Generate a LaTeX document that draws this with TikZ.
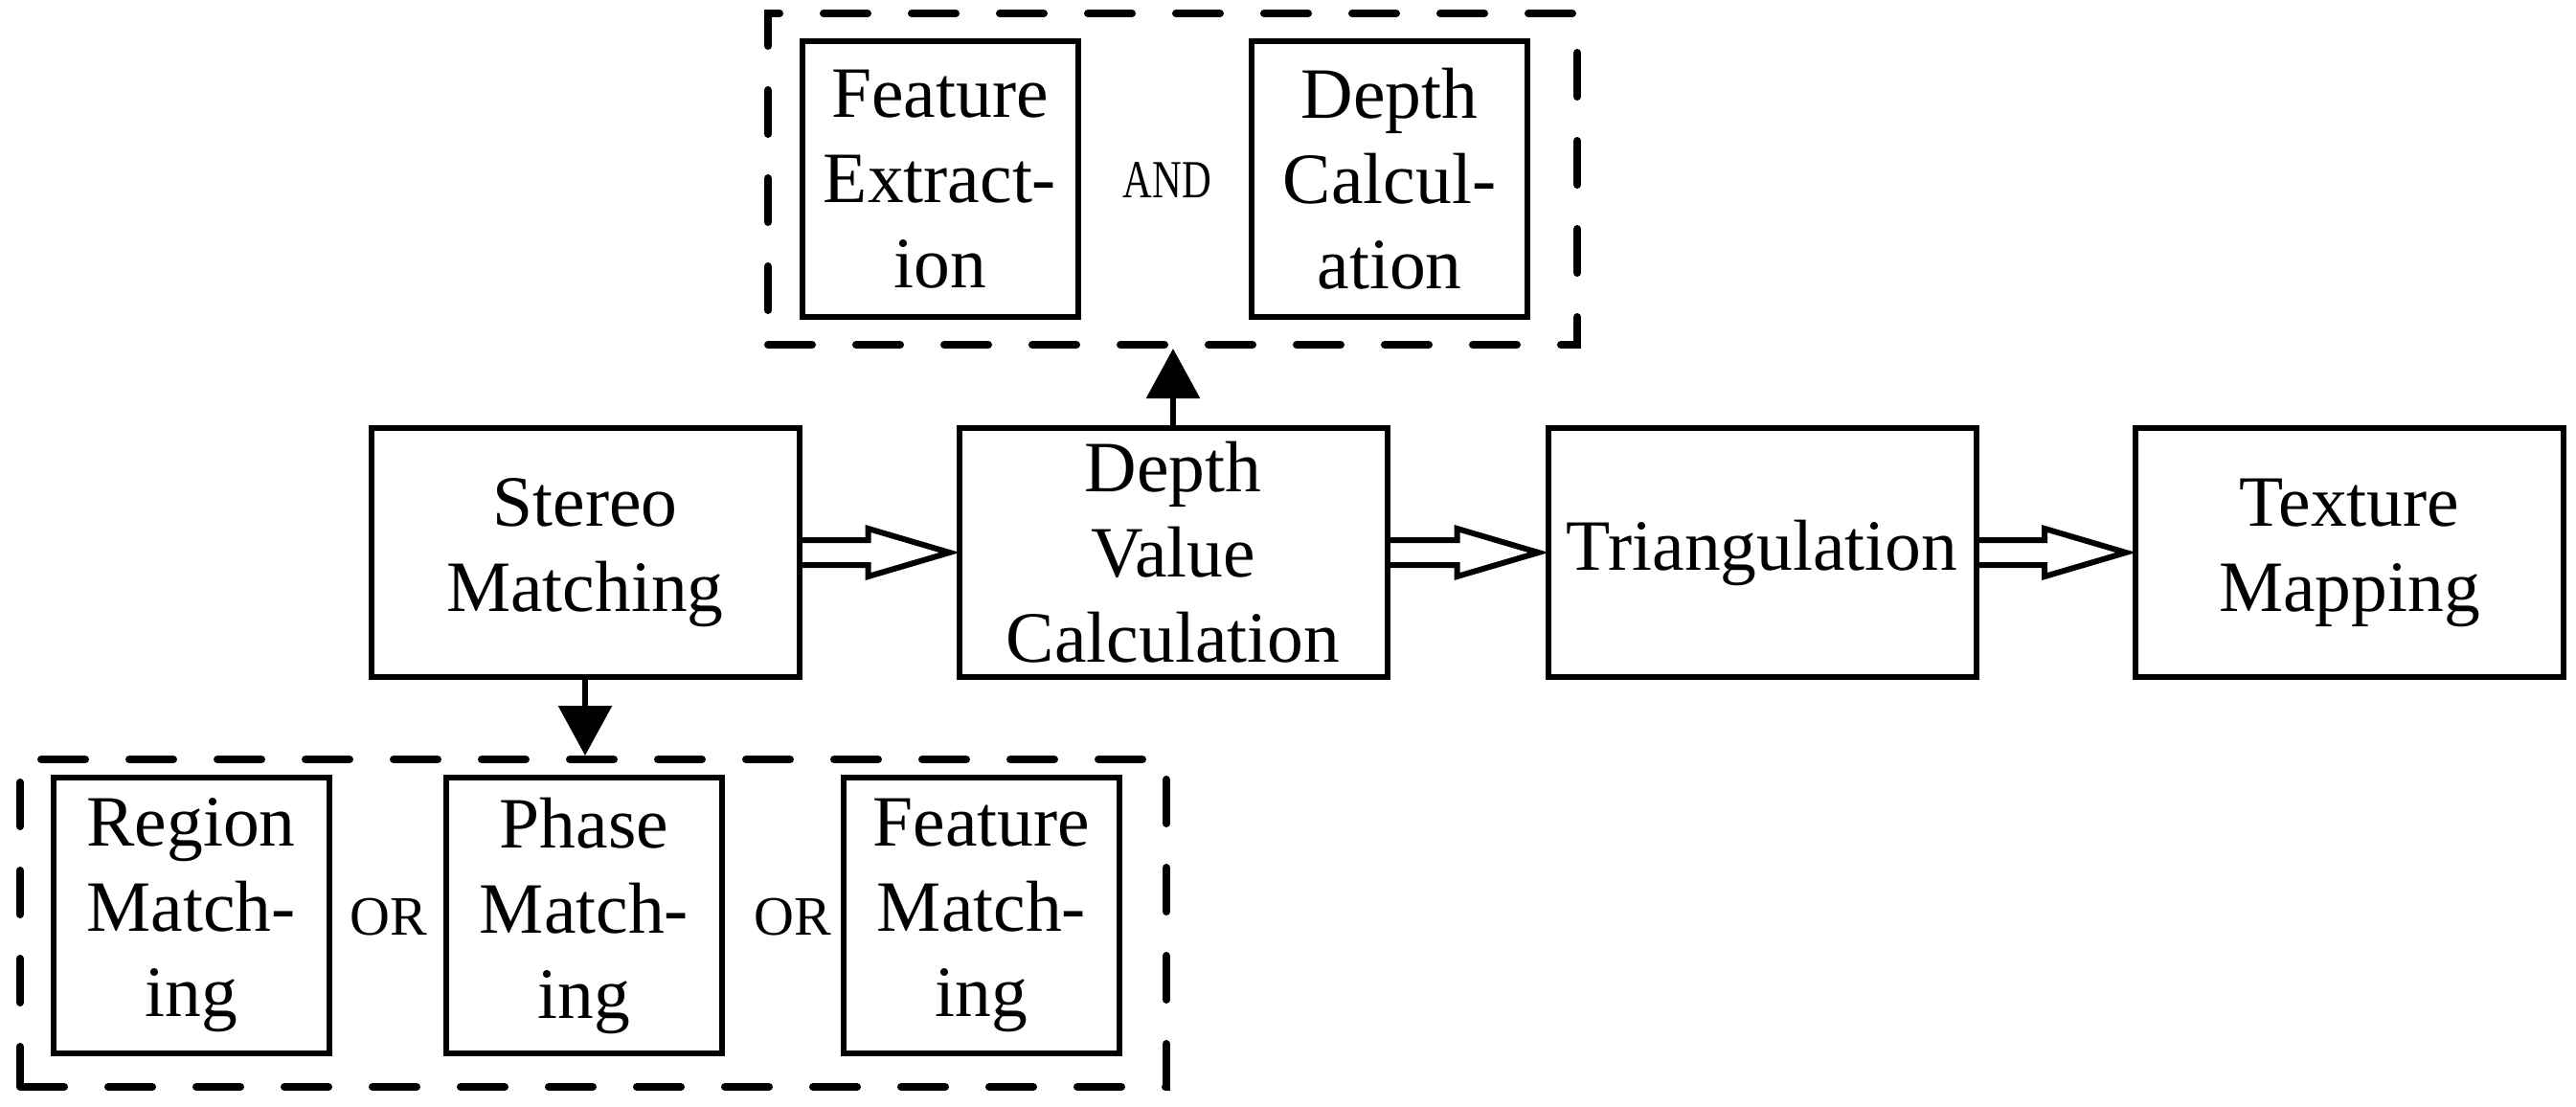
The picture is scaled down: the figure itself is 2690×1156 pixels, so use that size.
\documentclass[tikz,border=0pt]{standalone}
\usepackage{fontspec}
\usepackage{graphicx}
\setmainfont{Liberation Serif}
\usetikzlibrary{arrows.meta,calc}
\newcommand\hollowarr[2]{%
  \draw[hollowline] ([yshift=6.5pt]#1.east) -- ([xshift=-46pt,yshift=6.5pt]#2.west)
    -- ([xshift=-46pt,yshift=12.5pt]#2.west) -- ([xshift=-3.5pt]#2.west)
    -- ([xshift=-46pt,yshift=-12.5pt]#2.west) -- ([xshift=-46pt,yshift=-6.5pt]#2.west)
    -- ([yshift=-6.5pt]#1.east);}
\begin{document}
\begin{tikzpicture}[x=0.5pt,y=-0.5pt,
  txt/.style={font=\fontsize{37.75pt}{44.5pt}\selectfont, align=center, inner sep=0pt},
  box/.style={txt, draw, line width=3pt},
  bigbox/.style={box, minimum width=223.5pt, minimum height=130pt},
  smallbox/.style={box, minimum width=144pt, minimum height=144pt},
  group/.style={draw, line width=4pt, dash pattern=on 23pt off 23pt, line cap=round, inner sep=0pt},
  optxt/.style={inner sep=0pt, font=\fontsize{28pt}{32pt}\selectfont},
  hollowline/.style={line width=3pt, line join=miter},
  solidarrow/.style={line width=3pt, -{Triangle[length=26pt,width=27.5pt]}}]
\useasboundingbox (0,0) rectangle (2690,1156);

% top group
\node[group, minimum width=422.5pt, minimum height=173pt] (topgrp) at (1224.5,187) {};
\node[smallbox] (fe) at (981.5,187) {Feature\\Extract-\\ion};
\node[smallbox] (dc) at (1451,187) {Depth\\Calcul-\\ation};
\node[optxt] (and) at (1219,188) {\scalebox{0.76}[1]{AND}};

% main row
\node[bigbox] (sm) at (611,577) {Stereo\\Matching};
\node[bigbox] (dvc) at (1225,577) {Depth\\Value\\Calculation};
\node[bigbox] (tri) at (1840,577) {Triangulation};
\node[bigbox] (tm) at (2453.5,577) {Texture\\Mapping};

% bottom group
\node[group, minimum width=598.5pt, minimum height=171pt] (botgrp) at (619.5,964) {};
\node[smallbox] (rm) at (199.5,956) {Region\\Match-\\ing};
\node[smallbox] (pm) at (610,956) {Phase\\Match-\\ing};
\node[smallbox] (fm) at (1025,956) {Feature\\Match-\\ing};
\node[optxt, font=\fontsize{29pt}{32pt}\selectfont] (or1) at (406,958) {OR};
\node[optxt, font=\fontsize{29pt}{32pt}\selectfont] (or2) at (828,958) {OR};

% connectors
\hollowarr{sm}{dvc}
\hollowarr{dvc}{tri}
\hollowarr{tri}{tm}
\draw[solidarrow] (dvc.north) -- (dvc.north |- topgrp.south);
\draw[solidarrow] (sm.south) -- (sm.south |- botgrp.north);
\end{tikzpicture}
\end{document}
